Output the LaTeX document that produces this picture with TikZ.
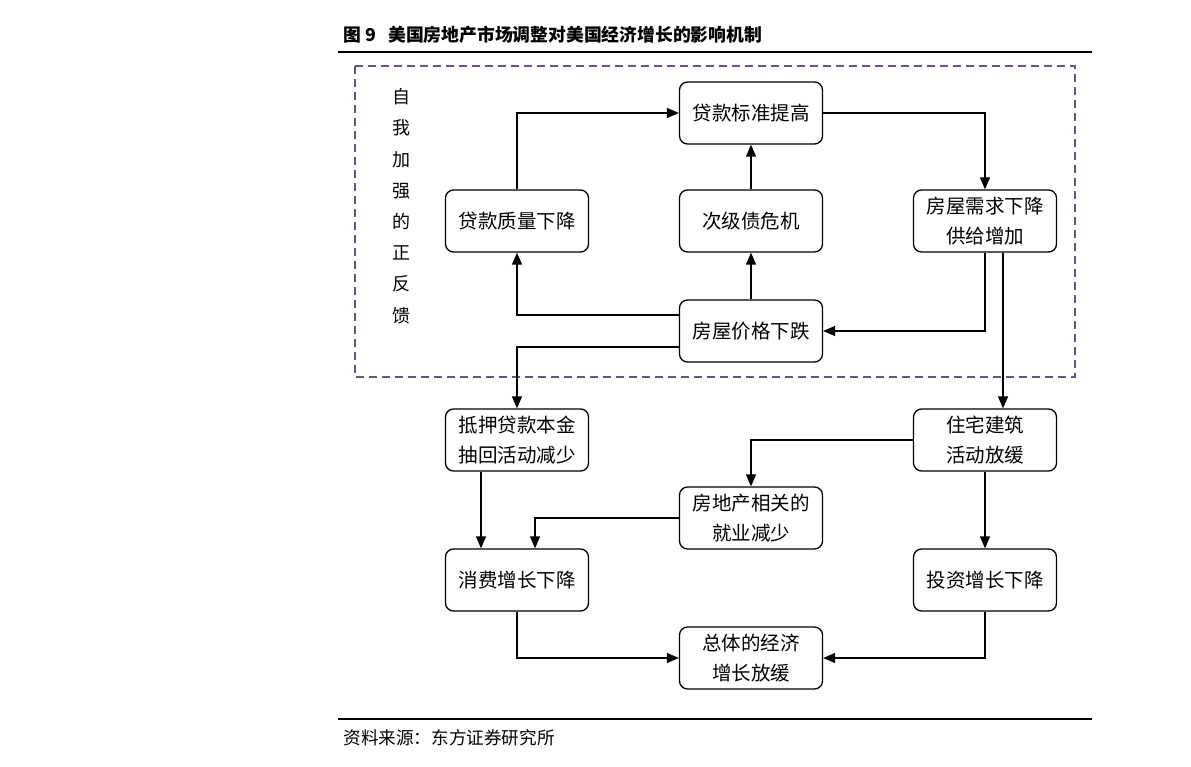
\documentclass[tikz,border=0pt]{standalone}
\usepackage{fontspec}
\setmainfont{Noto Sans CJK SC}
\usetikzlibrary{arrows.meta}

\begin{document}
\begin{tikzpicture}[x=1pt,y=-1pt,
  box/.style={draw,line width=1.3pt,rounded corners=8pt,minimum width=143pt,minimum height=62pt,inner sep=0pt,align=center,font=\fontsize{19.5}{30}\selectfont},
  arr/.style={line width=1.3pt,-{Triangle[length=12pt,width=10pt]}}]
\useasboundingbox (0,0) rectangle (1191,767);
\node[anchor=west,font=\fontsize{17.8}{20}\selectfont\bfseries] (title) at (340,35) {图~9\hspace{12pt}美国房地产市场调整对美国经济增长的影响机制};
\draw[line width=2pt] (338,52) -- (1092,52);
\draw[line width=1.2pt,color={rgb,255:red,80;green,90;blue,156},dash pattern=on 8pt off 5pt] (355,66) rectangle (1075,377);
\node[align=center,font=\fontsize{18}{31.2}\selectfont] (loop) at (401,206) {自\\我\\加\\强\\的\\正\\反\\馈};
\node[box] (std) at (751,113) {贷款标准提高};
\node[box] (qual) at (517,221) {贷款质量下降};
\node[box] (sub) at (751,221) {次级债危机};
\node[box] (dem) at (985,221) {房屋需求下降\\供给增加};
\node[box] (price) at (751,331) {房屋价格下跌};
\node[box] (mort) at (517,440) {抵押贷款本金\\抽回活动减少};
\node[box] (bld) at (985,440) {住宅建筑\\活动放缓};
\node[box] (job) at (751,518) {房地产相关的\\就业减少};
\node[box] (cons) at (517,580) {消费增长下降};
\node[box] (inv) at (985,580) {投资增长下降};
\node[box] (total) at (751,658) {总体的经济\\增长放缓};
\draw[arr] (qual.north) |- (std.west);
\draw[arr] (sub.north) -- (std.south);
\draw[arr] (std.east) -| (dem.north);
\draw[arr] (dem.south) |- (price.east);
\draw[arr] ([xshift=18pt]dem.south) -- ([xshift=18pt]bld.north);
\draw[arr] ([yshift=16pt]price.west) -| (qual.south);
\draw[arr] (price.north) -- (sub.south);
\draw[arr] ([yshift=-16pt]price.west) -| (mort.north);
\draw[arr] ([xshift=-36pt]mort.south) -- ([xshift=-36pt]cons.north);
\draw[arr] (bld.west) -| (job.north);
\draw[arr] (job.west) -| ([xshift=18pt]cons.north);
\draw[arr] (bld.south) -- (inv.north);
\draw[arr] (cons.south) |- (total.west);
\draw[arr] (inv.south) |- (total.east);
\draw[line width=2pt] (338,719) -- (1092,719);
\node[anchor=west,font=\fontsize{17.6}{20}\selectfont] (src) at (340,738) {资料来源：东方证券研究所};
\end{tikzpicture}
\end{document}
